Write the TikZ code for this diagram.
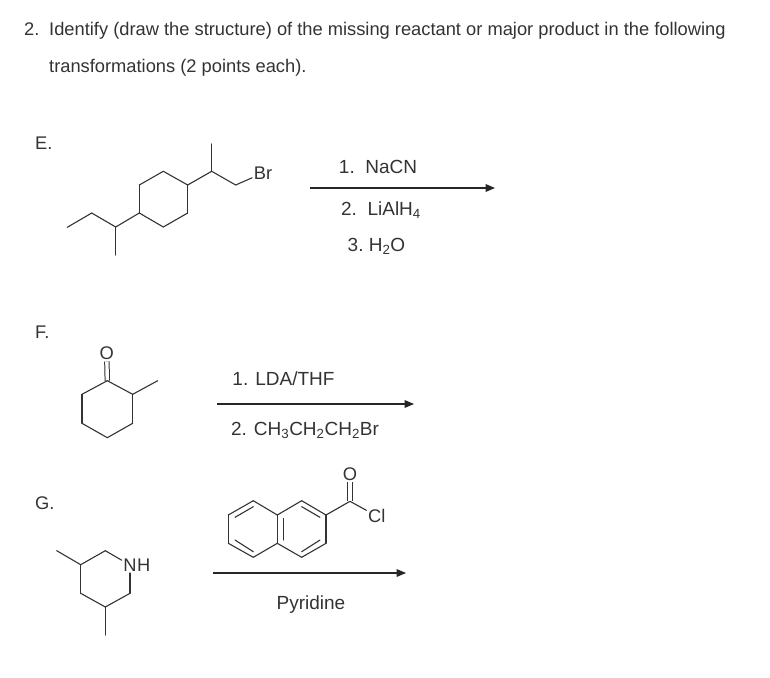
\documentclass[tikz,border=0pt]{standalone}
\usepackage{fontspec}
\setmainfont{Liberation Sans}
\usetikzlibrary{arrows}
\usetikzlibrary{positioning}

\tikzset{
  question/.style={anchor=base west, inner sep=0pt, text=black!80, font=\fontsize{18.3}{22}\selectfont},
  reagent/.style={anchor=base, inner sep=0pt, text=black!80, font=\fontsize{19}{23}\selectfont},
  atomlabel/.style={inner sep=1.5pt, text=black!80, font=\fontsize{18.3}{22}\selectfont},
  bond/.style={draw=black!80, line width=1.1pt, line cap=round},
  dblbond/.style={draw=black!80, line width=1pt, double, double distance=3.4pt},
  rxnarrow/.style={draw=black!85, line width=1.2pt, -triangle 45}
}

\begin{document}
\begin{tikzpicture}[x=1pt, y=-1pt]

\useasboundingbox (0, 0) rectangle (770, 677);

% question text
\node[question] (num) at (24, 36) {2.};
\node[question] (lineone) at (49, 36) {Identify (draw the structure) of the missing reactant or major product in the following};
\node[question] (linetwo) at (49, 72) {transformations (2 points each).};

\node[question] (labelE) at (35, 149) {E.};
\node[question] (labelF) at (35, 338) {F.};
\node[question] (labelG) at (35, 509) {G.};

% molecule E
\coordinate (e1) at (67.3, 227.3);
\coordinate (e2) at (91.7, 213);
\coordinate (e3) at (115.7, 227);
\coordinate (e4) at (115.7, 255);
\coordinate (e5) at (139.3, 213);
\coordinate (e6) at (139.3, 185);
\coordinate (e7) at (163.3, 171.3);
\coordinate (e8) at (187.7, 185);
\coordinate (e9) at (187.7, 213);
\coordinate (e10) at (163.3, 227);
\coordinate (e11) at (211.7, 171.3);
\coordinate (e12) at (211.7, 144);
\coordinate (e13) at (235.7, 185);
\node[atomlabel] (Br) at (263, 173) {Br};

\draw[bond] (e1) -- (e2);
\draw[bond] (e2) -- (e3);
\draw[bond] (e3) -- (e4);
\draw[bond] (e3) -- (e5);
\draw[bond] (e5) -- (e6);
\draw[bond] (e6) -- (e7);
\draw[bond] (e7) -- (e8);
\draw[bond] (e8) -- (e9);
\draw[bond] (e9) -- (e10);
\draw[bond] (e10) -- (e5);
\draw[bond] (e8) -- (e11);
\draw[bond] (e11) -- (e12);
\draw[bond] (e11) -- (e13);
\draw[bond] (e13) -- (Br);

% reaction E
\coordinate (arrowEa) at (310, 188);
\coordinate (arrowEb) at (495, 188);
\draw[rxnarrow] (arrowEa) -- (arrowEb);
\node[reagent] (nacn) at (378, 173.5) {1.\ \ NaCN};
\node[reagent] (lialh) at (381, 215) {2.\ \ LiAlH\textsubscript{4}};
\node[reagent] (water) at (376.5, 251.5) {3.\ H\textsubscript{2}O};

% molecule F
\node[atomlabel] (Of) at (106.7, 353.3) {O};
\coordinate (f1) at (107.3, 380.7);
\coordinate (f2) at (132.7, 394.3);
\coordinate (f3) at (157.7, 380.7);
\coordinate (f4) at (132.7, 423.3);
\coordinate (f5) at (107.3, 437.7);
\coordinate (f6) at (82, 423.3);
\coordinate (f7) at (82, 394.3);

\draw[dblbond] (f1) -- (Of);
\draw[bond] (f1) -- (f2);
\draw[bond] (f2) -- (f3);
\draw[bond] (f2) -- (f4);
\draw[bond] (f4) -- (f5);
\draw[bond] (f5) -- (f6);
\draw[bond] (f6) -- (f7);
\draw[bond] (f7) -- (f1);

% reaction F
\coordinate (arrowFa) at (217, 404);
\coordinate (arrowFb) at (414, 404);
\draw[rxnarrow] (arrowFa) -- (arrowFb);
\node[reagent] (lda) at (283.5, 385) {1. LDA/THF};
\node[reagent] (bromide) at (305, 435) {2. CH\textsubscript{3}CH\textsubscript{2}CH\textsubscript{2}Br};

% molecule G, amine
\node[atomlabel] (Ng) at (130, 565) {N};
\node[atomlabel, right=-3pt of Ng] (Hg) {H};
\coordinate (g1) at (56.7, 550.7);
\coordinate (g2) at (80.7, 564.7);
\coordinate (g3) at (105.3, 550.7);
\coordinate (g4) at (130, 593.3);
\coordinate (g5) at (105.3, 607);
\coordinate (g6) at (80.7, 593.3);
\coordinate (g7) at (105.3, 635);

\draw[bond] (g1) -- (g2);
\draw[bond] (g2) -- (g3);
\draw[bond] (g3) -- (Ng);
\draw[bond] (Ng) -- (g4);
\draw[bond] (g4) -- (g5);
\draw[bond] (g5) -- (g6);
\draw[bond] (g6) -- (g2);
\draw[bond] (g5) -- (g7);

% molecule G, acid chloride
\coordinate (n1) at (228.3, 515);
\coordinate (n2) at (253.3, 500.7);
\coordinate (n3) at (277.3, 515);
\coordinate (n4) at (277.3, 543.3);
\coordinate (n5) at (253.3, 557.3);
\coordinate (n6) at (228.3, 543.3);
\coordinate (n7) at (301.7, 500.7);
\coordinate (n8) at (326, 515);
\coordinate (n9) at (326, 543.3);
\coordinate (n10) at (301.7, 557.3);
\coordinate (n11) at (350, 501.3);
\node[atomlabel] (Og) at (350, 474) {O};
\node[atomlabel] (Cl) at (376.7, 516) {Cl};

\draw[bond] (n1) -- (n2);
\draw[bond] (n2) -- (n3);
\draw[bond] (n3) -- (n4);
\draw[bond] (n4) -- (n5);
\draw[bond] (n5) -- (n6);
\draw[bond] (n6) -- (n1);
\draw[bond] (n3) -- (n7);
\draw[bond] (n7) -- (n8);
\draw[bond] (n8) -- (n9);
\draw[bond] (n9) -- (n10);
\draw[bond] (n10) -- (n4);
\draw[bond] (n8) -- (n11);
\draw[bond] (n11) -- (Cl);
\draw[dblbond] (n11) -- (Og);

% inner lines of the aromatic rings
\coordinate (i1) at (235, 517.3);
\coordinate (i2) at (253.3, 506.7);
\coordinate (i3) at (235, 540);
\coordinate (i4) at (253.3, 551.7);
\coordinate (i7) at (283.3, 518.3);
\coordinate (i8) at (283.3, 540);
\coordinate (i9) at (301.7, 506.7);
\coordinate (i10) at (320, 517.3);
\coordinate (i11) at (320, 540);
\coordinate (i12) at (301.7, 551.7);
\draw[bond] (i1) -- (i2);
\draw[bond] (i3) -- (i4);
\draw[bond] (i7) -- (i8);
\draw[bond] (i9) -- (i10);
\draw[bond] (i11) -- (i12);

% reaction G
\coordinate (arrowGa) at (213, 573);
\coordinate (arrowGb) at (406, 573);
\draw[rxnarrow] (arrowGa) -- (arrowGb);
\node[reagent] (pyridine) at (311, 609) {Pyridine};

\end{tikzpicture}
\end{document}
